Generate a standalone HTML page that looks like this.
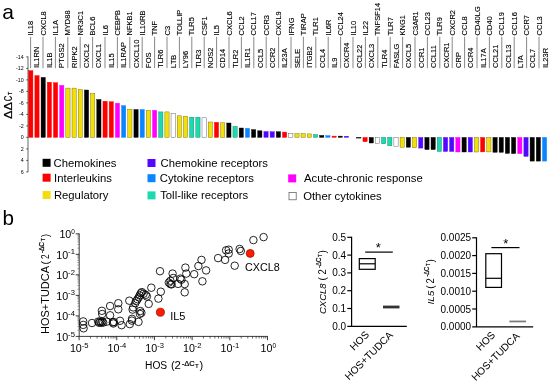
<!DOCTYPE html>
<html><head><meta charset="utf-8"><title>Figure</title>
<style>html,body{margin:0;padding:0;background:#fff}svg{display:block}</style>
</head><body>
<svg width="550" height="383" viewBox="0 0 550 383" font-family="'Liberation Sans', Arial, sans-serif" fill="#000">
<rect width="550" height="383" fill="#fff"/>
<text x="2.3" y="18.5" font-size="21">a</text>
<text x="2.4" y="224.7" font-size="20.6">b</text>
<g stroke-width="0.4">
<rect x="28.68" y="70.60" width="4.25" height="66.80" fill="#ff0000" stroke="#ff0000"/>
<rect x="34.87" y="75.60" width="4.25" height="61.80" fill="#ff0000" stroke="#ff0000"/>
<rect x="41.06" y="77.40" width="4.25" height="60.00" fill="#000000" stroke="#000000"/>
<rect x="47.25" y="82.20" width="4.25" height="55.20" fill="#ff0000" stroke="#ff0000"/>
<rect x="53.44" y="82.70" width="4.25" height="54.70" fill="#ff0000" stroke="#ff0000"/>
<rect x="59.63" y="85.40" width="4.25" height="52.00" fill="#ff00ff" stroke="#ff00ff"/>
<rect x="65.82" y="88.10" width="4.25" height="49.30" fill="#f2de0a" stroke="#6b6200"/>
<rect x="72.01" y="88.10" width="4.25" height="49.30" fill="#f2de0a" stroke="#6b6200"/>
<rect x="78.20" y="89.60" width="4.25" height="47.80" fill="#f2de0a" stroke="#6b6200"/>
<rect x="84.39" y="90.00" width="4.25" height="47.40" fill="#000000" stroke="#000000"/>
<rect x="90.58" y="93.50" width="4.25" height="43.90" fill="#f2de0a" stroke="#6b6200"/>
<rect x="96.77" y="99.50" width="4.25" height="37.90" fill="#000000" stroke="#000000"/>
<rect x="102.96" y="101.20" width="4.25" height="36.20" fill="#ff0000" stroke="#ff0000"/>
<rect x="109.15" y="101.70" width="4.25" height="35.70" fill="#ff0000" stroke="#ff0000"/>
<rect x="115.34" y="103.20" width="4.25" height="34.20" fill="#ff00ff" stroke="#ff00ff"/>
<rect x="121.53" y="105.60" width="4.25" height="31.80" fill="#0a84ff" stroke="#0a84ff"/>
<rect x="127.72" y="109.20" width="4.25" height="28.20" fill="#f2de0a" stroke="#6b6200"/>
<rect x="133.91" y="109.50" width="4.25" height="27.90" fill="#000000" stroke="#000000"/>
<rect x="140.10" y="109.50" width="4.25" height="27.90" fill="#0a84ff" stroke="#0a84ff"/>
<rect x="146.29" y="110.30" width="4.25" height="27.10" fill="#f2de0a" stroke="#6b6200"/>
<rect x="152.48" y="110.30" width="4.25" height="27.10" fill="#ff00ff" stroke="#ff00ff"/>
<rect x="158.67" y="111.90" width="4.25" height="25.50" fill="#1fd9ae" stroke="#0a7a60"/>
<rect x="164.86" y="111.90" width="4.25" height="25.50" fill="#f2de0a" stroke="#6b6200"/>
<rect x="171.05" y="113.40" width="4.25" height="24.00" fill="#ffffff" stroke="#444"/>
<rect x="177.24" y="115.80" width="4.25" height="21.60" fill="#f2de0a" stroke="#6b6200"/>
<rect x="183.43" y="116.30" width="4.25" height="21.10" fill="#f2de0a" stroke="#6b6200"/>
<rect x="189.62" y="117.20" width="4.25" height="20.20" fill="#1fd9ae" stroke="#0a7a60"/>
<rect x="195.81" y="117.20" width="4.25" height="20.20" fill="#1fd9ae" stroke="#0a7a60"/>
<rect x="202.00" y="117.80" width="4.25" height="19.60" fill="#ffffff" stroke="#444"/>
<rect x="208.19" y="122.00" width="4.25" height="15.40" fill="#f2de0a" stroke="#6b6200"/>
<rect x="214.38" y="122.30" width="4.25" height="15.10" fill="#ff0000" stroke="#ff0000"/>
<rect x="220.57" y="122.80" width="4.25" height="14.60" fill="#f2de0a" stroke="#6b6200"/>
<rect x="226.76" y="123.00" width="4.25" height="14.40" fill="#000000" stroke="#000000"/>
<rect x="232.95" y="126.40" width="4.25" height="11.00" fill="#1fd9ae" stroke="#0a7a60"/>
<rect x="239.14" y="128.00" width="4.25" height="9.40" fill="#000000" stroke="#000000"/>
<rect x="245.33" y="128.30" width="4.25" height="9.10" fill="#0a84ff" stroke="#0a84ff"/>
<rect x="251.52" y="129.60" width="4.25" height="7.80" fill="#000000" stroke="#000000"/>
<rect x="257.71" y="130.80" width="4.25" height="6.60" fill="#000000" stroke="#000000"/>
<rect x="263.90" y="131.50" width="4.25" height="5.90" fill="#5208ff" stroke="#5208ff"/>
<rect x="270.09" y="131.70" width="4.25" height="5.70" fill="#5208ff" stroke="#5208ff"/>
<rect x="276.28" y="131.70" width="4.25" height="5.70" fill="#000000" stroke="#000000"/>
<rect x="282.47" y="132.10" width="4.25" height="5.30" fill="#ff0000" stroke="#ff0000"/>
<rect x="288.66" y="133.60" width="4.25" height="3.80" fill="#ffffff" stroke="#444"/>
<rect x="294.85" y="133.60" width="4.25" height="3.80" fill="#f2de0a" stroke="#6b6200"/>
<rect x="301.04" y="133.60" width="4.25" height="3.80" fill="#f2de0a" stroke="#6b6200"/>
<rect x="307.23" y="133.90" width="4.25" height="3.50" fill="#f2de0a" stroke="#6b6200"/>
<rect x="313.42" y="134.60" width="4.25" height="2.80" fill="#1fd9ae" stroke="#0a7a60"/>
<rect x="319.61" y="135.40" width="4.25" height="2.00" fill="#000000" stroke="#000000"/>
<rect x="325.80" y="135.60" width="4.25" height="1.80" fill="#0a84ff" stroke="#0a84ff"/>
<rect x="331.99" y="136.10" width="4.25" height="1.30" fill="#ff0000" stroke="#ff0000"/>
<rect x="338.18" y="136.10" width="4.25" height="1.30" fill="#000000" stroke="#000000"/>
<rect x="344.37" y="136.20" width="4.25" height="1.20" fill="#5208ff" stroke="#5208ff"/>
<rect x="356.75" y="137.40" width="4.25" height="0.70" fill="#000000" stroke="#000000"/>
<rect x="362.94" y="137.40" width="4.25" height="4.30" fill="#ff0000" stroke="#ff0000"/>
<rect x="369.13" y="137.40" width="4.25" height="5.60" fill="#000000" stroke="#000000"/>
<rect x="375.32" y="137.40" width="4.25" height="6.20" fill="#ffffff" stroke="#444"/>
<rect x="381.51" y="137.40" width="4.25" height="6.40" fill="#1fd9ae" stroke="#0a7a60"/>
<rect x="387.70" y="137.40" width="4.25" height="8.40" fill="#1fd9ae" stroke="#0a7a60"/>
<rect x="393.89" y="137.40" width="4.25" height="8.90" fill="#ffffff" stroke="#444"/>
<rect x="400.08" y="137.40" width="4.25" height="9.80" fill="#f2de0a" stroke="#6b6200"/>
<rect x="406.27" y="137.40" width="4.25" height="9.80" fill="#000000" stroke="#000000"/>
<rect x="412.46" y="137.40" width="4.25" height="10.40" fill="#f2de0a" stroke="#6b6200"/>
<rect x="418.65" y="137.40" width="4.25" height="10.70" fill="#5208ff" stroke="#5208ff"/>
<rect x="424.84" y="137.40" width="4.25" height="12.20" fill="#000000" stroke="#000000"/>
<rect x="431.03" y="137.40" width="4.25" height="12.20" fill="#000000" stroke="#000000"/>
<rect x="437.22" y="137.40" width="4.25" height="14.10" fill="#1fd9ae" stroke="#0a7a60"/>
<rect x="443.41" y="137.40" width="4.25" height="14.10" fill="#5208ff" stroke="#5208ff"/>
<rect x="449.60" y="137.40" width="4.25" height="14.10" fill="#5208ff" stroke="#5208ff"/>
<rect x="455.79" y="137.40" width="4.25" height="14.60" fill="#ff00ff" stroke="#ff00ff"/>
<rect x="461.98" y="137.40" width="4.25" height="14.60" fill="#000000" stroke="#000000"/>
<rect x="468.17" y="137.40" width="4.25" height="14.60" fill="#5208ff" stroke="#5208ff"/>
<rect x="474.36" y="137.40" width="4.25" height="14.60" fill="#f2de0a" stroke="#6b6200"/>
<rect x="480.55" y="137.40" width="4.25" height="14.50" fill="#ff0000" stroke="#ff0000"/>
<rect x="486.74" y="137.40" width="4.25" height="14.50" fill="#f2de0a" stroke="#6b6200"/>
<rect x="492.93" y="137.40" width="4.25" height="14.90" fill="#000000" stroke="#000000"/>
<rect x="499.12" y="137.40" width="4.25" height="14.90" fill="#000000" stroke="#000000"/>
<rect x="505.31" y="137.40" width="4.25" height="16.00" fill="#000000" stroke="#000000"/>
<rect x="511.50" y="137.40" width="4.25" height="16.20" fill="#000000" stroke="#000000"/>
<rect x="517.69" y="137.40" width="4.25" height="16.20" fill="#ff00ff" stroke="#ff00ff"/>
<rect x="523.88" y="137.40" width="4.25" height="19.00" fill="#5208ff" stroke="#5208ff"/>
<rect x="530.07" y="137.40" width="4.25" height="23.70" fill="#000000" stroke="#000000"/>
<rect x="536.26" y="137.40" width="4.25" height="23.70" fill="#000000" stroke="#000000"/>
<rect x="542.45" y="137.40" width="4.25" height="23.70" fill="#0a84ff" stroke="#0a84ff"/>
</g>
<g stroke="#000" stroke-width="0.6" fill="none"><path d="M28 56.5V172.2"/>
<path d="M26.2 56.90H28"/>
<path d="M26.2 68.40H28"/>
<path d="M26.2 79.90H28"/>
<path d="M26.2 91.40H28"/>
<path d="M26.2 102.90H28"/>
<path d="M26.2 114.40H28"/>
<path d="M26.2 125.90H28"/>
<path d="M26.2 137.40H28"/>
<path d="M26.2 148.90H28"/>
<path d="M26.2 160.40H28"/>
<path d="M26.2 171.90H28"/>
</g>
<g font-size="5.3" text-anchor="end">
<text x="23.6" y="58.80">-14</text>
<text x="23.6" y="70.30">-12</text>
<text x="23.6" y="81.80">-10</text>
<text x="23.6" y="93.30">-8</text>
<text x="23.6" y="104.80">-6</text>
<text x="23.6" y="116.30">-4</text>
<text x="23.6" y="127.80">-2</text>
<text x="23.6" y="139.30">0</text>
<text x="23.6" y="150.80">2</text>
<text x="23.6" y="162.30">4</text>
<text x="23.6" y="173.80">6</text>
</g>
<g stroke="#000" stroke-width="0.2">
<text transform="translate(11.70 119.00) rotate(-90) scale(1.212 1)" font-size="10.5">ΔΔ</text>
<text transform="translate(11.70 101.20) rotate(-90) scale(0.725 1)" font-size="10.5">C</text>
<text transform="translate(11.70 95.00) rotate(-90) scale(0.845 1)" font-size="6.2" stroke="#000" stroke-width="0.22">T</text>
</g>
<g font-size="7.5" stroke="#000" stroke-width="0.12">
<text transform="translate(33.20 35.4) rotate(-90)">IL18</text>
<text transform="translate(39.40 67.9) rotate(-90)">IL1RN</text>
<text transform="translate(45.60 35.4) rotate(-90)">CXCL8</text>
<text transform="translate(51.80 67.9) rotate(-90)">IL1B</text>
<text transform="translate(58.00 35.4) rotate(-90)">IL1A</text>
<text transform="translate(64.20 67.9) rotate(-90)">PTGS2</text>
<text transform="translate(70.40 35.4) rotate(-90)">MYD88</text>
<text transform="translate(76.60 67.9) rotate(-90)">RIPK2</text>
<text transform="translate(82.80 35.4) rotate(-90)">NR3C1</text>
<text transform="translate(89.00 67.9) rotate(-90)">CXCL2</text>
<text transform="translate(95.20 35.4) rotate(-90)">BCL6</text>
<text transform="translate(101.40 67.9) rotate(-90)">CXCL1</text>
<text transform="translate(107.60 35.4) rotate(-90)">IL6</text>
<text transform="translate(113.80 67.9) rotate(-90)">IL15</text>
<text transform="translate(120.00 35.4) rotate(-90)">CEBPB</text>
<text transform="translate(126.20 67.9) rotate(-90)">IL1RAP</text>
<text transform="translate(132.40 35.4) rotate(-90)">NFKB1</text>
<text transform="translate(138.60 67.9) rotate(-90)">CXCL10</text>
<text transform="translate(144.80 35.4) rotate(-90)">IL10RB</text>
<text transform="translate(151.00 67.9) rotate(-90)">FOS</text>
<text transform="translate(157.20 35.4) rotate(-90)">TNF</text>
<text transform="translate(163.40 67.9) rotate(-90)">TLR6</text>
<text transform="translate(169.60 35.4) rotate(-90)">C3</text>
<text transform="translate(175.80 67.9) rotate(-90)">LTB</text>
<text transform="translate(182.00 35.4) rotate(-90)">TOLLIP</text>
<text transform="translate(188.20 67.9) rotate(-90)">LY96</text>
<text transform="translate(194.40 35.4) rotate(-90)">TLR5</text>
<text transform="translate(200.60 67.9) rotate(-90)">TLR3</text>
<text transform="translate(206.80 35.4) rotate(-90)">CSF1</text>
<text transform="translate(213.00 67.9) rotate(-90)">NOS2</text>
<text transform="translate(219.20 35.4) rotate(-90)">IL5</text>
<text transform="translate(225.40 67.9) rotate(-90)">CD14</text>
<text transform="translate(231.60 35.4) rotate(-90)">CXCL6</text>
<text transform="translate(237.80 67.9) rotate(-90)">TLR2</text>
<text transform="translate(244.00 35.4) rotate(-90)">CCL2</text>
<text transform="translate(250.20 67.9) rotate(-90)">IL1R1</text>
<text transform="translate(256.40 35.4) rotate(-90)">CCL17</text>
<text transform="translate(262.60 67.9) rotate(-90)">CCL5</text>
<text transform="translate(268.80 35.4) rotate(-90)">CCR3</text>
<text transform="translate(275.00 67.9) rotate(-90)">CCR2</text>
<text transform="translate(281.20 35.4) rotate(-90)">CXCL9</text>
<text transform="translate(287.40 67.9) rotate(-90)">IL23A</text>
<text transform="translate(293.60 35.4) rotate(-90)">IFNG</text>
<text transform="translate(299.80 67.9) rotate(-90)">SELE</text>
<text transform="translate(306.00 35.4) rotate(-90)">TIRAP</text>
<text transform="translate(312.20 67.9) rotate(-90)">ITGB2</text>
<text transform="translate(318.40 35.4) rotate(-90)">TLR1</text>
<text transform="translate(324.60 67.9) rotate(-90)">CCL4</text>
<text transform="translate(330.80 35.4) rotate(-90)">IL6R</text>
<text transform="translate(337.00 67.9) rotate(-90)">IL9</text>
<text transform="translate(343.20 35.4) rotate(-90)">CCL24</text>
<text transform="translate(349.40 67.9) rotate(-90)">CXCR4</text>
<text transform="translate(355.60 35.4) rotate(-90)">IL10</text>
<text transform="translate(361.80 67.9) rotate(-90)">CCL22</text>
<text transform="translate(368.00 35.4) rotate(-90)">IL22</text>
<text transform="translate(374.20 67.9) rotate(-90)">CXCL3</text>
<text transform="translate(380.40 35.4) rotate(-90)">TNFSF14</text>
<text transform="translate(386.60 67.9) rotate(-90)">TLR4</text>
<text transform="translate(392.80 35.4) rotate(-90)">TLR7</text>
<text transform="translate(399.00 67.9) rotate(-90)">FASLG</text>
<text transform="translate(405.20 35.4) rotate(-90)">KNG1</text>
<text transform="translate(411.40 67.9) rotate(-90)">CXCL5</text>
<text transform="translate(417.60 35.4) rotate(-90)">C3AR1</text>
<text transform="translate(423.80 67.9) rotate(-90)">CCR1</text>
<text transform="translate(430.00 35.4) rotate(-90)">CCL23</text>
<text transform="translate(436.20 67.9) rotate(-90)">CCL11</text>
<text transform="translate(442.40 35.4) rotate(-90)">TLR9</text>
<text transform="translate(448.60 67.9) rotate(-90)">CXCR1</text>
<text transform="translate(454.80 35.4) rotate(-90)">CXCR2</text>
<text transform="translate(461.00 67.9) rotate(-90)">CRP</text>
<text transform="translate(467.20 35.4) rotate(-90)">CCL8</text>
<text transform="translate(473.40 67.9) rotate(-90)">CCR4</text>
<text transform="translate(479.60 35.4) rotate(-90)">CD40LG</text>
<text transform="translate(485.80 67.9) rotate(-90)">IL17A</text>
<text transform="translate(492.00 35.4) rotate(-90)">CD40</text>
<text transform="translate(498.20 67.9) rotate(-90)">CCL21</text>
<text transform="translate(504.40 35.4) rotate(-90)">CCL19</text>
<text transform="translate(510.60 67.9) rotate(-90)">CCL13</text>
<text transform="translate(516.80 35.4) rotate(-90)">CCL16</text>
<text transform="translate(523.00 67.9) rotate(-90)">LTA</text>
<text transform="translate(529.20 35.4) rotate(-90)">CCR7</text>
<text transform="translate(535.40 67.9) rotate(-90)">CCL7</text>
<text transform="translate(541.60 35.4) rotate(-90)">CCL3</text>
<text transform="translate(547.80 67.9) rotate(-90)">IL23R</text>
</g>
<g stroke="#111" stroke-width="0.5">
<path d="M30.60 36.8V68.2"/>
<path d="M43.00 36.8V68.2"/>
<path d="M55.40 36.8V68.2"/>
<path d="M67.80 36.8V68.2"/>
<path d="M80.20 36.8V68.2"/>
<path d="M92.60 36.8V68.2"/>
<path d="M105.00 36.8V68.2"/>
<path d="M117.40 36.8V68.2"/>
<path d="M129.80 36.8V68.2"/>
<path d="M142.20 36.8V68.2"/>
<path d="M154.60 36.8V68.2"/>
<path d="M167.00 36.8V68.2"/>
<path d="M179.40 36.8V68.2"/>
<path d="M191.80 36.8V68.2"/>
<path d="M204.20 36.8V68.2"/>
<path d="M216.60 36.8V68.2"/>
<path d="M229.00 36.8V68.2"/>
<path d="M241.40 36.8V68.2"/>
<path d="M253.80 36.8V68.2"/>
<path d="M266.20 36.8V68.2"/>
<path d="M278.60 36.8V68.2"/>
<path d="M291.00 36.8V68.2"/>
<path d="M303.40 36.8V68.2"/>
<path d="M315.80 36.8V68.2"/>
<path d="M328.20 36.8V68.2"/>
<path d="M340.60 36.8V68.2"/>
<path d="M353.00 36.8V68.2"/>
<path d="M365.40 36.8V68.2"/>
<path d="M377.80 36.8V68.2"/>
<path d="M390.20 36.8V68.2"/>
<path d="M402.60 36.8V68.2"/>
<path d="M415.00 36.8V68.2"/>
<path d="M427.40 36.8V68.2"/>
<path d="M439.80 36.8V68.2"/>
<path d="M452.20 36.8V68.2"/>
<path d="M464.60 36.8V68.2"/>
<path d="M477.00 36.8V68.2"/>
<path d="M489.40 36.8V68.2"/>
<path d="M501.80 36.8V68.2"/>
<path d="M514.20 36.8V68.2"/>
<path d="M526.60 36.8V68.2"/>
<path d="M539.00 36.8V68.2"/>
</g>
<rect x="42.6" y="158.8" width="8" height="8" fill="#000000"/>
<text x="53.6" y="166.8" font-size="11.3">Chemokines</text>
<rect x="42.6" y="173.7" width="8" height="8" fill="#ff0000"/>
<text x="54.1" y="181.8" font-size="11.3">Interleukins</text>
<rect x="42.6" y="191.0" width="8" height="8" fill="#f2de0a"/>
<text x="53.9" y="199.1" font-size="11.3">Regulatory</text>
<rect x="147.5" y="159.0" width="8" height="8" fill="#5208ff"/>
<text x="160.5" y="166.8" font-size="11.3">Chemokine receptors</text>
<rect x="147.5" y="174.2" width="8" height="8" fill="#0a84ff"/>
<text x="159.8" y="182.2" font-size="11.3">Cytokine receptors</text>
<rect x="147.5" y="191.4" width="8" height="8" fill="#1fd9ae"/>
<text x="160.2" y="199.0" font-size="11.3">Toll-like receptors</text>
<rect x="288.2" y="174.4" width="8" height="8" fill="#ff00ff"/>
<text x="304.0" y="181.9" font-size="11.3">Acute-chronic response</text>
<rect x="289.0" y="192.6" width="7.2" height="7.2" fill="#fff" stroke="#555" stroke-width="0.7"/>
<text x="303.2" y="199.8" font-size="11.3">Other cytokines</text>
<g stroke="#1a1a1a" stroke-width="0.85" fill="none">
<path d="M79.2 233.4V336.4H267.90"/>
<path d="M75.7 233.80H79.2"/>
<path d="M79.10 336.4V340.2"/>
<path d="M75.7 254.32H79.2"/>
<path d="M116.78 336.4V340.2"/>
<path d="M75.7 274.84H79.2"/>
<path d="M154.46 336.4V340.2"/>
<path d="M75.7 295.36H79.2"/>
<path d="M192.14 336.4V340.2"/>
<path d="M75.7 315.88H79.2"/>
<path d="M229.82 336.4V340.2"/>
<path d="M75.7 336.40H79.2"/>
<path d="M267.50 336.4V340.2"/>
</g><g stroke="#333" stroke-width="0.42" fill="none">
<path d="M77.4 248.14H79.2"/>
<path stroke="#111" stroke-width="0.62" d="M90.44 336.4V338.5"/>
<path d="M77.4 244.53H79.2"/>
<path stroke="#111" stroke-width="0.62" d="M97.08 336.4V338.5"/>
<path d="M77.4 241.97H79.2"/>
<path stroke="#111" stroke-width="0.62" d="M101.79 336.4V338.5"/>
<path d="M77.4 239.98H79.2"/>
<path stroke="#111" stroke-width="0.62" d="M105.44 336.4V338.5"/>
<path d="M77.4 238.35H79.2"/>
<path stroke="#111" stroke-width="0.62" d="M108.42 336.4V338.5"/>
<path d="M77.4 236.98H79.2"/>
<path stroke="#111" stroke-width="0.62" d="M110.94 336.4V338.5"/>
<path d="M77.4 235.79H79.2"/>
<path stroke="#111" stroke-width="0.62" d="M113.13 336.4V338.5"/>
<path d="M77.4 234.74H79.2"/>
<path stroke="#111" stroke-width="0.62" d="M115.06 336.4V338.5"/>
<path d="M77.4 268.66H79.2"/>
<path stroke="#111" stroke-width="0.62" d="M128.12 336.4V338.5"/>
<path d="M77.4 265.05H79.2"/>
<path stroke="#111" stroke-width="0.62" d="M134.76 336.4V338.5"/>
<path d="M77.4 262.49H79.2"/>
<path stroke="#111" stroke-width="0.62" d="M139.47 336.4V338.5"/>
<path d="M77.4 260.50H79.2"/>
<path stroke="#111" stroke-width="0.62" d="M143.12 336.4V338.5"/>
<path d="M77.4 258.87H79.2"/>
<path stroke="#111" stroke-width="0.62" d="M146.10 336.4V338.5"/>
<path d="M77.4 257.50H79.2"/>
<path stroke="#111" stroke-width="0.62" d="M148.62 336.4V338.5"/>
<path d="M77.4 256.31H79.2"/>
<path stroke="#111" stroke-width="0.62" d="M150.81 336.4V338.5"/>
<path d="M77.4 255.26H79.2"/>
<path stroke="#111" stroke-width="0.62" d="M152.74 336.4V338.5"/>
<path d="M77.4 289.18H79.2"/>
<path stroke="#111" stroke-width="0.62" d="M165.80 336.4V338.5"/>
<path d="M77.4 285.57H79.2"/>
<path stroke="#111" stroke-width="0.62" d="M172.44 336.4V338.5"/>
<path d="M77.4 283.01H79.2"/>
<path stroke="#111" stroke-width="0.62" d="M177.15 336.4V338.5"/>
<path d="M77.4 281.02H79.2"/>
<path stroke="#111" stroke-width="0.62" d="M180.80 336.4V338.5"/>
<path d="M77.4 279.39H79.2"/>
<path stroke="#111" stroke-width="0.62" d="M183.78 336.4V338.5"/>
<path d="M77.4 278.02H79.2"/>
<path stroke="#111" stroke-width="0.62" d="M186.30 336.4V338.5"/>
<path d="M77.4 276.83H79.2"/>
<path stroke="#111" stroke-width="0.62" d="M188.49 336.4V338.5"/>
<path d="M77.4 275.78H79.2"/>
<path stroke="#111" stroke-width="0.62" d="M190.42 336.4V338.5"/>
<path d="M77.4 309.70H79.2"/>
<path stroke="#111" stroke-width="0.62" d="M203.48 336.4V338.5"/>
<path d="M77.4 306.09H79.2"/>
<path stroke="#111" stroke-width="0.62" d="M210.12 336.4V338.5"/>
<path d="M77.4 303.53H79.2"/>
<path stroke="#111" stroke-width="0.62" d="M214.83 336.4V338.5"/>
<path d="M77.4 301.54H79.2"/>
<path stroke="#111" stroke-width="0.62" d="M218.48 336.4V338.5"/>
<path d="M77.4 299.91H79.2"/>
<path stroke="#111" stroke-width="0.62" d="M221.46 336.4V338.5"/>
<path d="M77.4 298.54H79.2"/>
<path stroke="#111" stroke-width="0.62" d="M223.98 336.4V338.5"/>
<path d="M77.4 297.35H79.2"/>
<path stroke="#111" stroke-width="0.62" d="M226.17 336.4V338.5"/>
<path d="M77.4 296.30H79.2"/>
<path stroke="#111" stroke-width="0.62" d="M228.10 336.4V338.5"/>
<path d="M77.4 330.22H79.2"/>
<path stroke="#111" stroke-width="0.62" d="M241.16 336.4V338.5"/>
<path d="M77.4 326.61H79.2"/>
<path stroke="#111" stroke-width="0.62" d="M247.80 336.4V338.5"/>
<path d="M77.4 324.05H79.2"/>
<path stroke="#111" stroke-width="0.62" d="M252.51 336.4V338.5"/>
<path d="M77.4 322.06H79.2"/>
<path stroke="#111" stroke-width="0.62" d="M256.16 336.4V338.5"/>
<path d="M77.4 320.43H79.2"/>
<path stroke="#111" stroke-width="0.62" d="M259.14 336.4V338.5"/>
<path d="M77.4 319.06H79.2"/>
<path stroke="#111" stroke-width="0.62" d="M261.66 336.4V338.5"/>
<path d="M77.4 317.87H79.2"/>
<path stroke="#111" stroke-width="0.62" d="M263.85 336.4V338.5"/>
<path d="M77.4 316.82H79.2"/>
<path stroke="#111" stroke-width="0.62" d="M265.78 336.4V338.5"/>
</g>
<g font-size="10">
<text x="59.40" y="238.30"><tspan textLength="11.9" lengthAdjust="spacingAndGlyphs">10</tspan><tspan font-size="7.4" dy="-4.4" textLength="3.6" lengthAdjust="spacingAndGlyphs">0</tspan></text>
<text x="56.20" y="258.82"><tspan textLength="11.9" lengthAdjust="spacingAndGlyphs">10</tspan><tspan font-size="7.4" dy="-4.4" textLength="6.8" lengthAdjust="spacingAndGlyphs">-1</tspan></text>
<text x="56.20" y="279.34"><tspan textLength="11.9" lengthAdjust="spacingAndGlyphs">10</tspan><tspan font-size="7.4" dy="-4.4" textLength="6.8" lengthAdjust="spacingAndGlyphs">-2</tspan></text>
<text x="56.20" y="299.86"><tspan textLength="11.9" lengthAdjust="spacingAndGlyphs">10</tspan><tspan font-size="7.4" dy="-4.4" textLength="6.8" lengthAdjust="spacingAndGlyphs">-3</tspan></text>
<text x="56.20" y="320.38"><tspan textLength="11.9" lengthAdjust="spacingAndGlyphs">10</tspan><tspan font-size="7.4" dy="-4.4" textLength="6.8" lengthAdjust="spacingAndGlyphs">-4</tspan></text>
<text x="56.20" y="340.90"><tspan textLength="11.9" lengthAdjust="spacingAndGlyphs">10</tspan><tspan font-size="7.4" dy="-4.4" textLength="6.8" lengthAdjust="spacingAndGlyphs">-5</tspan></text>
<text x="69.90" y="351.7"><tspan textLength="11.9" lengthAdjust="spacingAndGlyphs">10</tspan><tspan font-size="7.4" dy="-4.2" textLength="6.8" lengthAdjust="spacingAndGlyphs">-5</tspan></text>
<text x="107.58" y="351.7"><tspan textLength="11.9" lengthAdjust="spacingAndGlyphs">10</tspan><tspan font-size="7.4" dy="-4.2" textLength="6.8" lengthAdjust="spacingAndGlyphs">-4</tspan></text>
<text x="145.26" y="351.7"><tspan textLength="11.9" lengthAdjust="spacingAndGlyphs">10</tspan><tspan font-size="7.4" dy="-4.2" textLength="6.8" lengthAdjust="spacingAndGlyphs">-3</tspan></text>
<text x="182.94" y="351.7"><tspan textLength="11.9" lengthAdjust="spacingAndGlyphs">10</tspan><tspan font-size="7.4" dy="-4.2" textLength="6.8" lengthAdjust="spacingAndGlyphs">-2</tspan></text>
<text x="220.62" y="351.7"><tspan textLength="11.9" lengthAdjust="spacingAndGlyphs">10</tspan><tspan font-size="7.4" dy="-4.2" textLength="6.8" lengthAdjust="spacingAndGlyphs">-1</tspan></text>
<text x="260.50" y="351.7"><tspan textLength="11.9" lengthAdjust="spacingAndGlyphs">10</tspan><tspan font-size="7.4" dy="-4.2" textLength="3.6" lengthAdjust="spacingAndGlyphs">0</tspan></text>
</g>
<text transform="translate(145.00 369.20) scale(0.931 1)" font-size="11">HOS</text>
<text transform="translate(171.00 369.20) scale(1.000 1)" font-size="11">(</text>
<text transform="translate(174.40 369.20) scale(1.030 1)" font-size="11">2</text>
<text transform="translate(181.80 366.40) scale(0.980 1)" font-size="7.7" stroke="#000" stroke-width="0.22">-ΔC</text>
<text transform="translate(195.30 368.00) scale(0.964 1)" font-size="5.6" stroke="#000" stroke-width="0.22">T</text>
<text transform="translate(199.60 369.20) scale(1.000 1)" font-size="11">)</text>
<text transform="translate(48.60 333.90) rotate(-90) scale(1.054 1)" font-size="10.4">HOS+TUDCA</text>
<text transform="translate(48.60 264.60) rotate(-90) scale(1.000 1)" font-size="10.4">(</text>
<text transform="translate(48.60 259.10) rotate(-90) scale(0.796 1)" font-size="10.4">2</text>
<text transform="translate(43.70 253.20) rotate(-90) scale(0.886 1)" font-size="7.4" stroke="#000" stroke-width="0.22">-ΔC</text>
<text transform="translate(45.00 241.30) rotate(-90) scale(0.906 1)" font-size="5.6" stroke="#000" stroke-width="0.22">T</text>
<text transform="translate(48.60 237.20) rotate(-90) scale(1.000 1)" font-size="10.4">)</text>
<g stroke="#000" stroke-width="0.85" fill="none">
<circle cx="83.2" cy="321.4" r="3.75"/>
<circle cx="83.2" cy="324.9" r="3.75"/>
<circle cx="83.6" cy="328.3" r="3.75"/>
<circle cx="92.0" cy="323.0" r="3.75"/>
<circle cx="98.2" cy="321.6" r="3.75"/>
<circle cx="99.2" cy="322.8" r="3.75"/>
<circle cx="100.1" cy="321.5" r="3.75"/>
<circle cx="101.2" cy="322.7" r="3.75"/>
<circle cx="102.2" cy="321.7" r="3.75"/>
<circle cx="103.2" cy="322.6" r="3.75"/>
<circle cx="106.6" cy="321.7" r="3.75"/>
<circle cx="113.9" cy="322.0" r="3.75"/>
<circle cx="101.9" cy="310.8" r="3.75"/>
<circle cx="102.2" cy="314.0" r="3.75"/>
<circle cx="110.1" cy="306.0" r="3.75"/>
<circle cx="118.3" cy="303.2" r="3.75"/>
<circle cx="118.3" cy="309.3" r="3.75"/>
<circle cx="110.1" cy="315.3" r="3.75"/>
<circle cx="129.3" cy="300.7" r="3.75"/>
<circle cx="112.8" cy="322.4" r="3.75"/>
<circle cx="113.4" cy="323.5" r="3.75"/>
<circle cx="120.0" cy="320.8" r="3.75"/>
<circle cx="121.6" cy="325.2" r="3.75"/>
<circle cx="129.8" cy="324.1" r="3.75"/>
<circle cx="132.0" cy="318.8" r="3.75"/>
<circle cx="133.2" cy="307.4" r="3.75"/>
<circle cx="132.6" cy="309.6" r="3.75"/>
<circle cx="136.5" cy="300.8" r="3.75"/>
<circle cx="137.5" cy="299.2" r="3.75"/>
<circle cx="140.8" cy="293.2" r="3.75"/>
<circle cx="141.9" cy="292.1" r="3.75"/>
<circle cx="143.6" cy="293.7" r="3.75"/>
<circle cx="145.8" cy="294.8" r="3.75"/>
<circle cx="146.9" cy="296.5" r="3.75"/>
<circle cx="140.3" cy="311.0" r="3.75"/>
<circle cx="141.4" cy="312.8" r="3.75"/>
<circle cx="139.9" cy="313.9" r="3.75"/>
<circle cx="131.9" cy="320.6" r="3.75"/>
<circle cx="138.5" cy="321.9" r="3.75"/>
<circle cx="138.8" cy="297.3" r="3.75"/>
<circle cx="139.7" cy="295.4" r="3.75"/>
<circle cx="135.2" cy="303.2" r="3.75"/>
<circle cx="151.3" cy="287.7" r="3.75"/>
<circle cx="148.7" cy="303.9" r="3.75"/>
<circle cx="158.4" cy="298.6" r="3.75"/>
<circle cx="160.8" cy="291.7" r="3.75"/>
<circle cx="168.8" cy="282.6" r="3.75"/>
<circle cx="171.6" cy="284.4" r="3.75"/>
<circle cx="178.1" cy="283.9" r="3.75"/>
<circle cx="160.0" cy="271.2" r="3.75"/>
<circle cx="172.6" cy="273.6" r="3.75"/>
<circle cx="173.2" cy="278.0" r="3.75"/>
<circle cx="170.4" cy="280.8" r="3.75"/>
<circle cx="170.4" cy="284.1" r="3.75"/>
<circle cx="180.3" cy="278.6" r="3.75"/>
<circle cx="181.4" cy="279.7" r="3.75"/>
<circle cx="184.7" cy="284.1" r="3.75"/>
<circle cx="185.4" cy="267.6" r="3.75"/>
<circle cx="186.3" cy="273.6" r="3.75"/>
<circle cx="184.7" cy="292.3" r="3.75"/>
<circle cx="194.2" cy="274.2" r="3.75"/>
<circle cx="198.4" cy="266.0" r="3.75"/>
<circle cx="201.5" cy="259.9" r="3.75"/>
<circle cx="206.1" cy="270.4" r="3.75"/>
<circle cx="202.4" cy="281.3" r="3.75"/>
<circle cx="218.1" cy="258.1" r="3.75"/>
<circle cx="225.1" cy="259.9" r="3.75"/>
<circle cx="226.1" cy="250.3" r="3.75"/>
<circle cx="228.7" cy="249.7" r="3.75"/>
<circle cx="228.7" cy="253.5" r="3.75"/>
<circle cx="234.7" cy="265.7" r="3.75"/>
<circle cx="239.6" cy="249.0" r="3.75"/>
<circle cx="240.8" cy="251.0" r="3.75"/>
<circle cx="253.4" cy="240.1" r="3.75"/>
<circle cx="263.6" cy="237.1" r="3.75"/>
</g>
<circle cx="160.4" cy="312.2" r="4.05" fill="#ff1a00" stroke="#8a1000" stroke-width="0.7"/>
<circle cx="250.2" cy="253.4" r="4.0" fill="#ff1a00" stroke="#8a1000" stroke-width="0.7"/>
<text x="170.2" y="319.9" font-size="11">IL5</text>
<text x="244.9" y="270.8" font-size="10.8">CXCL8</text>
<g stroke="#000" stroke-width="1.2" fill="none"><path d="M351.6 236.8V326.3"/><path d="M347.3 326.3H406.8"/>
<path d="M347.3 237.30H351.6"/>
<path d="M347.3 255.10H351.6"/>
<path d="M347.3 272.90H351.6"/>
<path d="M347.3 290.70H351.6"/>
<path d="M347.3 308.50H351.6"/>
<rect x="359.3" y="258.6" width="15.899999999999977" height="10.699999999999989"/><path d="M359.3 263.8H375.2"/>
<path d="M365.2 252.1H392.8"/>
</g>
<rect x="383" y="305.6" width="16.5" height="2.7999999999999545" fill="#333"/>
<g font-size="10" text-anchor="end">
<text x="346.20000000000005" y="240.80">0.5</text>
<text x="346.20000000000005" y="258.60">0.4</text>
<text x="346.20000000000005" y="276.40">0.3</text>
<text x="346.20000000000005" y="294.20">0.2</text>
<text x="346.20000000000005" y="312.00">0.1</text>
<text x="346.20000000000005" y="329.80">0.0</text>
</g>
<text x="378.4" y="251.9" font-size="13" text-anchor="middle">*</text>
<text transform="translate(325.80 314.00) rotate(-90) scale(0.999 1)" font-size="9.5" font-style="italic">CXCL8</text>
<text transform="translate(325.80 280.40) rotate(-90) scale(1.000 1)" font-size="10.2">(</text>
<text transform="translate(325.80 274.60) rotate(-90) scale(0.917 1)" font-size="10.2">2</text>
<text transform="translate(320.80 267.90) rotate(-90) scale(0.838 1)" font-size="7.2" stroke="#000" stroke-width="0.22">-ΔC</text>
<text transform="translate(321.80 256.90) rotate(-90) scale(0.818 1)" font-size="5.4" stroke="#000" stroke-width="0.22">T</text>
<text transform="translate(325.80 253.40) rotate(-90) scale(1.000 1)" font-size="10.2">)</text>
<text transform="translate(369.7 335.3) rotate(-45)" font-size="10.2" text-anchor="end">HOS</text>
<text transform="translate(393.6 335.8) rotate(-45)" font-size="10.2" text-anchor="end">HOS+TUDCA</text>
<g stroke="#000" stroke-width="1.2" fill="none"><path d="M476.5 237.3V326.8"/><path d="M472.2 326.8H533.2"/>
<path d="M472.2 237.80H476.5"/>
<path d="M472.2 255.60H476.5"/>
<path d="M472.2 273.40H476.5"/>
<path d="M472.2 291.20H476.5"/>
<path d="M472.2 309.00H476.5"/>
<rect x="485.8" y="253.7" width="15.699999999999989" height="33.69999999999999"/><path d="M485.8 278.3H501.5"/>
<path d="M491.4 247.6H519.5"/>
</g>
<rect x="509.4" y="320.6" width="16.700000000000045" height="1.6999999999999886" fill="#777"/>
<g font-size="10" text-anchor="end">
<text x="471.1" y="241.30">0.0025</text>
<text x="471.1" y="259.10">0.0020</text>
<text x="471.1" y="276.90">0.0015</text>
<text x="471.1" y="294.70">0.0010</text>
<text x="471.1" y="312.50">0.0005</text>
<text x="471.1" y="330.30">0.0000</text>
</g>
<text x="505.7" y="247.8" font-size="13" text-anchor="middle">*</text>
<text transform="translate(434.20 304.60) rotate(-90) scale(1.058 1)" font-size="9.5" font-style="italic">IL5</text>
<text transform="translate(434.20 288.80) rotate(-90) scale(1.000 1)" font-size="10.2">(</text>
<text transform="translate(434.20 283.40) rotate(-90) scale(0.917 1)" font-size="10.2">2</text>
<text transform="translate(429.20 276.80) rotate(-90) scale(0.822 1)" font-size="7.2" stroke="#000" stroke-width="0.22">-ΔC</text>
<text transform="translate(430.20 266.00) rotate(-90) scale(0.788 1)" font-size="5.4" stroke="#000" stroke-width="0.22">T</text>
<text transform="translate(434.20 262.60) rotate(-90) scale(1.000 1)" font-size="10.2">)</text>
<text transform="translate(495.9 335.7) rotate(-45)" font-size="10.2" text-anchor="end">HOS</text>
<text transform="translate(520.3 336.7) rotate(-45)" font-size="10.2" text-anchor="end">HOS+TUDCA</text>
</svg>
</body></html>
